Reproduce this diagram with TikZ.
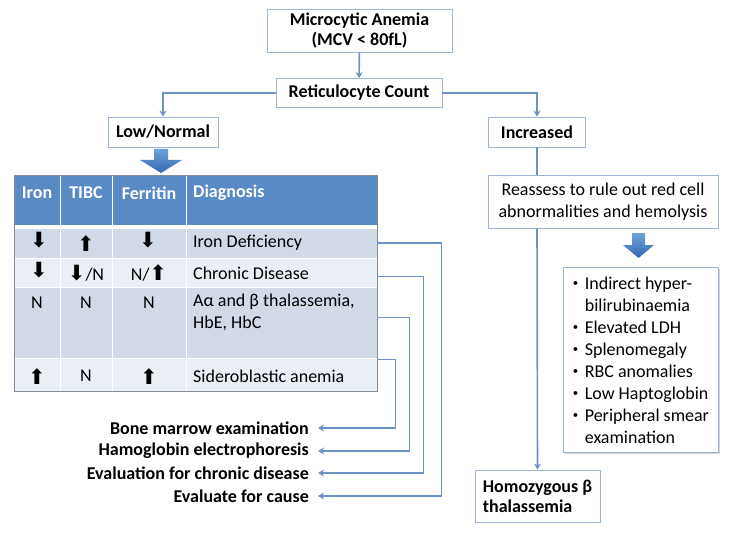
\documentclass[tikz,border=0pt]{standalone}
\usepackage{fontspec}
\setmainfont{Carlito}
\newfontfamily\symfont{DejaVu Sans}
\usetikzlibrary{arrows.meta, positioning, calc, shadows}

\definecolor{linkblue}{RGB}{108,146,198}
\definecolor{boxedge}{RGB}{156,182,214}
\definecolor{headblue}{RGB}{88,138,198}
\definecolor{rowdark}{RGB}{210,218,232}
\definecolor{rowlight}{RGB}{234,238,245}
\definecolor{arrowtop}{RGB}{112,162,218}
\definecolor{arrowbot}{RGB}{52,104,176}
\definecolor{tableedge}{RGB}{130,140,155}

\newcommand{\uparr}{{\symfont\fontsize{21}{21}\selectfont ⬆}}
\newcommand{\dnarr}{{\symfont\fontsize{21}{21}\selectfont ⬇}}
\newcommand{\bul}{\makebox[12pt][l]{\raisebox{0.35ex}{\scalebox{0.6}{\textbullet}}}}

\tikzset{
  box/.style={draw=boxedge, fill=white, line width=0.8pt, inner sep=0pt, align=center},
  bigtext/.style={font=\fontsize{18}{19.5}\selectfont\bfseries},
  plaintext/.style={font=\fontsize{18}{22}\selectfont},
  link/.style={draw=linkblue, line width=1.6pt},
  tip/.style={-{Stealth[length=6pt, width=7pt]}},
  rowcell/.style={draw=white, line width=1pt, minimum width=363pt, inner sep=0pt},
  headtext/.style={font=\fontsize{18}{20}\selectfont\bfseries, text=white, inner sep=0pt},
  celltext/.style={font=\fontsize{18}{22}\selectfont, inner sep=0pt},
  nexttext/.style={font=\fontsize{18}{20}\selectfont\bfseries, anchor=east, inner sep=0pt, inner xsep=9pt},
  blockarrow/.style={top color=arrowtop, bottom color=arrowbot, draw=none}
}

\begin{document}
\begin{tikzpicture}[x=1pt, y=-1pt]
  \useasboundingbox (0,0) rectangle (730,548);

  % Top of the tree
  \node[box, bigtext, minimum width=185pt, minimum height=43pt] (mcv) at (359.5,30.5) {Microcytic Anemia\\(MCV < 80fL)};
  \node[box, bigtext, minimum width=166pt, minimum height=29pt] (retic) at (359,93) {Reticulocyte Count};
  \node[box, bigtext, minimum width=110pt, minimum height=30pt] (low) at (163,132) {Low/Normal};
  \node[box, bigtext, minimum width=97pt, minimum height=30pt] (incr) at (537,132) {Increased};

  \draw[link, tip] (mcv) -- (retic);
  \draw[link, tip] (retic.west) -| (low.north);
  \draw[link, tip] (retic.east) -| (incr.north);

  % Block arrow to the table
  \shade[blockarrow] (154,149) -- (168,149) -- (168,160) -- (182,160) -- (161,173) -- (140,160) -- (154,160) -- cycle;

  % Table
  \fill[headblue] (14,175) rectangle (377,225);
  \node[rowcell, fill=rowdark, minimum height=30pt] (r1) at (195.5,243) {};
  \node[rowcell, fill=rowlight, minimum height=29pt] (r2) at (195.5,272.5) {};
  \node[rowcell, fill=rowdark, minimum height=71pt] (r3) at (195.5,322.5) {};
  \node[rowcell, fill=rowlight, minimum height=33pt] (r4) at (195.5,374.5) {};
  \draw[white, line width=3pt] (14,226.5) -- (377,226.5);
  \foreach \cx in {60,112,186}
    \draw[white, line width=1pt] (\cx,175) -- (\cx,391);
  \draw[tableedge, line width=0.6pt] (14,175) rectangle (377,391);

  \node[headtext] (hiron) at (37,193) {Iron};
  \node[headtext] (htibc) at (86,193) {TIBC};
  \node[headtext] (hferr) at (149,193) {Ferritin};
  \node[headtext, anchor=west] (hdiag) at (193,193) {Diagnosis};

  \node[celltext] (iron1) at (39,240) {\dnarr};
  \node[celltext] (tibc1) at (86,244) {\uparr};
  \node[celltext] (ferr1) at (148,240) {\dnarr};
  \node[celltext, anchor=west] (diag1) at (193,243) {Iron Deficiency};

  \node[celltext] (iron2) at (39,270) {\dnarr};
  \node[celltext] (tibc2) at (86,273) {\dnarr/N};
  \node[celltext] (ferr2) at (149,273) {N/\uparr};
  \node[celltext, anchor=west] (diag2) at (193,273) {Chronic Disease};

  \node[celltext] (iron3) at (37,303) {N};
  \node[celltext] (tibc3) at (86,303) {N};
  \node[celltext] (ferr3) at (149,303) {N};
  \node[celltext, anchor=north west, align=left] (diag3) at (193,294) {Aα and β thalassemia,\\HbE, HbC};

  \node[celltext] (iron4) at (37,377) {\uparr};
  \node[celltext] (tibc4) at (86,376) {N};
  \node[celltext] (ferr4) at (149,377) {\uparr};
  \node[celltext, anchor=west] (diag4) at (193,376) {Sideroblastic anemia};

  % Next steps for each row
  \node[nexttext] (marrow) at (318,428) {Bone marrow examination};
  \node[nexttext] (hbelec) at (318,451) {Hamoglobin electrophoresis};
  \node[nexttext] (chronic) at (318,473) {Evaluation for chronic disease};
  \node[nexttext] (cause) at (318,496) {Evaluate for cause};

  \draw[link, tip] (r1.east) -- ++(64,0) |- (cause.east);
  \draw[link, tip] ([yshift=-4pt]r2.east) -- ++(46,0) |- (chronic.east);
  \draw[link, tip] ([yshift=5pt]r3.east) -- ++(32,0) |- (hbelec.east);
  \draw[link, tip] ([yshift=-2pt]r4.north east) -- ++(18,0) |- (marrow.east);

  % Increased branch
  \node[box, plaintext, minimum width=230pt, minimum height=53pt] (reassess) at (603,201.5) {Reassess to rule out red cell\\abnormalities and hemolysis};
  \shade[blockarrow] (632,233) -- (645,233) -- (645,245) -- (654,245) -- (638.5,258) -- (623,245) -- (632,245) -- cycle;
  \node[box, plaintext, anchor=north west, minimum width=155pt, minimum height=185pt, align=left,
        drop shadow={shadow xshift=2pt, shadow yshift=-2pt, opacity=0.35}] (signs) at (563,267)
    {\bul Indirect hyper-\\\hspace*{12pt}bilirubinaemia\\\bul Elevated LDH\\\bul Splenomegaly\\\bul RBC anomalies\\\bul Low Haptoglobin\\\bul Peripheral smear\\\hspace*{12pt}examination};
  \node[box, font=\fontsize{18}{20}\selectfont\bfseries, align=left, minimum width=125pt, minimum height=52pt] (homo) at (537.5,496) {Homozygous β\\thalassemia};

  \draw[link] (incr.south) -- (incr.south |- reassess.north);
  \draw[link, tip] (incr.south |- reassess.south) -- (homo.north);
\end{tikzpicture}
\end{document}
